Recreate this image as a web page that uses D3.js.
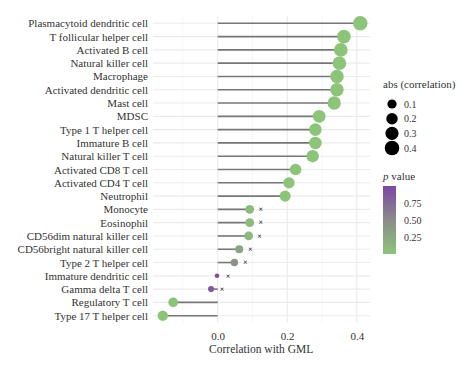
<!DOCTYPE html>
<html>
<head>
<meta charset="utf-8">
<script src="https://cdn.jsdelivr.net/npm/d3@7"></script>
<style>
    body { margin: 0; background: #fff; }
    text { font-family: "Liberation Serif", "DejaVu Serif", serif; fill: #333; }
</style>
</head>
<body>
<svg id="chart"></svg>
<script>
// cells, top to bottom
const cells = [
    "Plasmacytoid dendritic cell", "T follicular helper cell", "Activated B cell",
    "Natural killer cell", "Macrophage", "Activated dendritic cell", "Mast cell",
    "MDSC", "Type 1 T helper cell", "Immature B cell", "Natural killer T cell",
    "Activated CD8 T cell", "Activated CD4 T cell", "Neutrophil", "Monocyte",
    "Eosinophil", "CD56dim natural killer cell", "CD56bright natural killer cell",
    "Type 2 T helper cell", "Immature dendritic cell", "Gamma delta T cell",
    "Regulatory T cell", "Type 17 T helper cell"
];
const correlation = [0.41, 0.363, 0.354, 0.35, 0.343, 0.343, 0.335, 0.292, 0.281, 0.281,
    0.273, 0.224, 0.205, 0.194, 0.092, 0.092, 0.089, 0.062, 0.048, -0.002, -0.019, -0.128, -0.158];
const pvalue = [0.001, 0.001, 0.001, 0.001, 0.001, 0.001, 0.001, 0.001, 0.001, 0.001,
    0.001, 0.002, 0.003, 0.004, 0.09, 0.09, 0.1, 0.3, 0.45, 0.98, 0.88, 0.01, 0.002];
const xTicks = [0.0, 0.2, 0.4];
const sizeBreaks = [0.1, 0.2, 0.3, 0.4];
const colorBreaks = [0.25, 0.50, 0.75];

const data = cells.map((c, i) => ({cell: c, r: correlation[i], p: pvalue[i]}));

let graphicopt = {
    width: 474, height: 369,
    margin: {top: 16, right: 104, bottom: 46, left: 153},
    widthG: function(){return this.width-this.margin.left-this.margin.right},
    heightG: function(){return this.height-this.margin.top-this.margin.bottom},
};

const svg = d3.select("#chart")
    .attr("width", graphicopt.width)
    .attr("height", graphicopt.height);
const g = svg.append("g")
    .attr("transform", `translate(${graphicopt.margin.left},${graphicopt.margin.top})`);

const x = d3.scaleLinear().domain([-0.186, 0.438]).range([0, graphicopt.widthG()]);
const y = d3.scalePoint().domain(cells).range([7.3, 299.7]);
const size = d3.scaleSqrt().domain([0, 0.41]).range([1.9, 7.2]).clamp(true);
const color = d3.scaleLinear().domain([0, 0.5, 1]).range(["#8cc47a", "#8b8b8b", "#7d47a3"]);

// grid
g.append("g").selectAll("line.minor")
    .data([-0.1, 0.1, 0.3]).enter().append("line")
    .attr("x1", d=>x(d)).attr("x2", d=>x(d))
    .attr("y1", 0).attr("y2", graphicopt.heightG())
    .attr("stroke", "#f2f2f2").attr("stroke-width", 0.6);
g.append("g").selectAll("line.major")
    .data(xTicks).enter().append("line")
    .attr("x1", d=>x(d)).attr("x2", d=>x(d))
    .attr("y1", 0).attr("y2", graphicopt.heightG())
    .attr("stroke", "#ebebeb").attr("stroke-width", 1.1);
g.append("g").selectAll("line")
    .data(cells).enter().append("line")
    .attr("x1", 0).attr("x2", graphicopt.widthG())
    .attr("y1", d=>y(d)).attr("y2", d=>y(d))
    .attr("stroke", "#ebebeb").attr("stroke-width", 1.1);

// axes
const xAxis = d3.axisBottom(x).tickValues(xTicks).tickFormat(d3.format(".1f")).tickSize(0).tickPadding(9);
g.append("g")
    .attr("transform", `translate(0,${graphicopt.heightG()})`)
    .call(xAxis)
    .call(a => a.select(".domain").remove())
    .selectAll("text").attr("font-size", 11).attr("font-family", null).attr("fill", "#444");

const yAxis = d3.axisLeft(y).tickSize(0).tickPadding(5);
g.append("g")
    .call(yAxis)
    .call(a => a.select(".domain").remove())
    .selectAll("text").attr("font-size", 11).attr("font-family", null).attr("fill", "#2a2a2a");

// lollipops
g.append("g").selectAll("line")
    .data(data).enter().append("line")
    .attr("x1", x(0)).attr("x2", d=>x(d.r))
    .attr("y1", d=>y(d.cell)).attr("y2", d=>y(d.cell))
    .attr("stroke", "#777").attr("stroke-width", 1.6);

g.append("g").selectAll("circle")
    .data(data).enter().append("circle")
    .attr("cx", d=>x(d.r)).attr("cy", d=>y(d.cell))
    .attr("r", d=>size(Math.abs(d.r)))
    .attr("fill", d=>color(d.p));

// non-significant markers
g.append("g").selectAll("text")
    .data(data.filter(d=>d.p > 0.05)).enter().append("text")
    .attr("x", d=>x(d.r) + 11).attr("y", d=>y(d.cell))
    .attr("dy", "0.35em").attr("text-anchor", "middle")
    .attr("font-size", 8).attr("font-weight", "bold")
    .style("fill", "#222")
    .text("×");

// x title
g.append("text")
    .attr("x", x(0.125)).attr("y", graphicopt.heightG() + 30)
    .attr("text-anchor", "middle").attr("font-size", 11.5)
    .style("fill", "#333")
    .text("Correlation with GML");

// legends
const leg = svg.append("g").attr("transform", "translate(383,0)");
leg.append("text").attr("x", 0).attr("y", 88).attr("font-size", 11).style("fill", "#333")
    .text("abs (correlation)");
const sizeY = d3.scalePoint().domain(sizeBreaks).range([104, 148]);
leg.append("g").selectAll("circle")
    .data(sizeBreaks).enter().append("circle")
    .attr("cx", 9).attr("cy", d=>sizeY(d))
    .attr("r", d=>size(d) * 1.02).attr("fill", "#000");
leg.append("g").selectAll("text")
    .data(sizeBreaks).enter().append("text")
    .attr("x", 21).attr("y", d=>sizeY(d)).attr("dy", "0.35em")
    .attr("font-size", 10).style("fill", "#333")
    .text(d=>d.toFixed(1));

const pt = leg.append("text").attr("x", 0).attr("y", 180).attr("font-size", 11).style("fill", "#333");
pt.append("tspan").attr("font-style", "italic").text("p");
pt.append("tspan").text(" value");

const grad = svg.append("defs").append("linearGradient")
    .attr("id", "pgrad").attr("x1", 0).attr("x2", 0).attr("y1", 1).attr("y2", 0);
d3.range(0, 1.01, 0.1).forEach(t => {
    grad.append("stop").attr("offset", t).attr("stop-color", color(t));
});
const cy = d3.scaleLinear().domain([0, 1]).range([254, 186]);
leg.append("rect").attr("x", 0).attr("y", cy(1)).attr("width", 13)
    .attr("height", cy(0) - cy(1)).attr("fill", "url(#pgrad)");
leg.append("g").selectAll("text")
    .data(colorBreaks).enter().append("text")
    .attr("x", 21).attr("y", d=>cy(d)).attr("dy", "0.35em")
    .attr("font-size", 10).style("fill", "#333")
    .text(d=>d.toFixed(2));
</script>
</body>
</html>
